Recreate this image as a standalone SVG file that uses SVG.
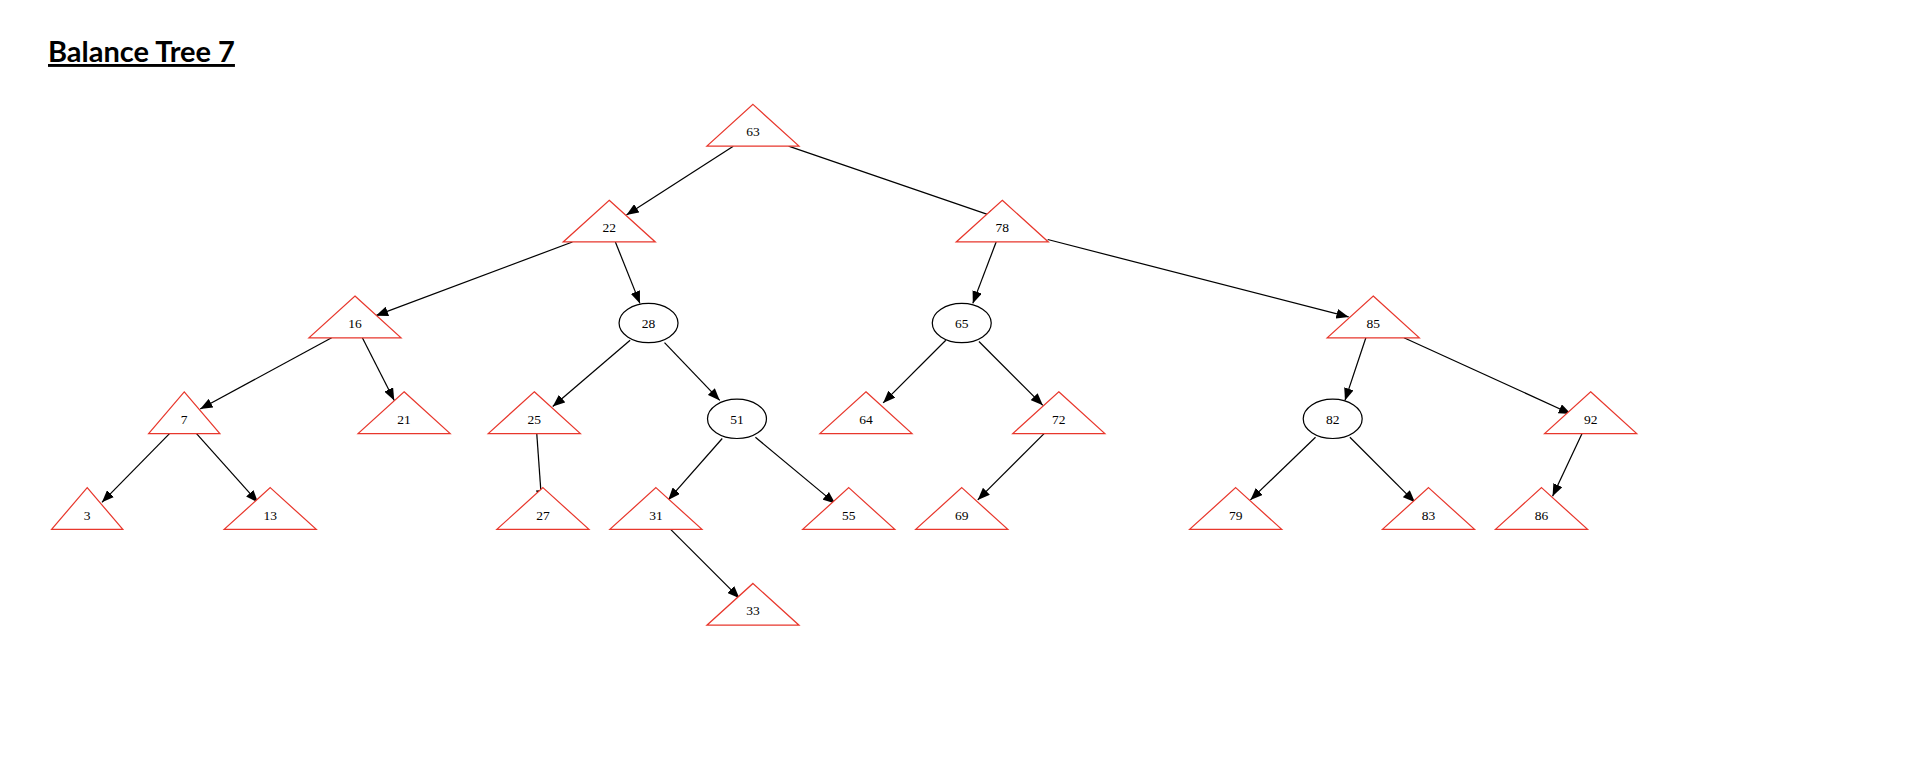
<svg xmlns="http://www.w3.org/2000/svg" width="1926" height="764" viewBox="0 0 1926 764">
<defs>
<style>
.t{fill:#fff;stroke:#e8372c;stroke-width:1}
.e{fill:#fff;stroke:#000;stroke-width:1}
.l{font-family:"Liberation Serif",serif;font-size:11px;text-anchor:middle;fill:#000}
.c line{stroke:#000;stroke-width:1;marker-end:url(#a)}
</style>
<marker id="a" viewBox="0 0 10 8" refX="10" refY="4" markerWidth="10" markerHeight="8" markerUnits="userSpaceOnUse" orient="auto"><path d="M0,0L10,4L0,8z" fill="#000"/></marker>
</defs>
<rect width="1926" height="764" fill="#fff"/>
<text x="48" y="62" font-family="Lato, sans-serif" font-weight="bold" font-size="29" text-decoration="underline" fill="#000">Balance Tree 7</text>
<g transform="scale(1.2283)">
<g class="c" id="connectors">
<line x1="597" y1="119" x2="510" y2="175"/>
<line x1="642" y1="119" x2="814" y2="178"/>
<line x1="466" y1="197" x2="306" y2="257"/>
<line x1="501" y1="197" x2="521" y2="247"/>
<line x1="811" y1="197" x2="792" y2="247"/>
<line x1="853" y1="195" x2="1098" y2="258"/>
<line x1="270" y1="275" x2="163" y2="333"/>
<line x1="295" y1="275" x2="321" y2="326"/>
<line x1="513" y1="277" x2="450" y2="331"/>
<line x1="541" y1="279" x2="586" y2="326"/>
<line x1="770" y1="277" x2="719" y2="328"/>
<line x1="797" y1="278" x2="849" y2="330"/>
<line x1="1112" y1="275" x2="1095" y2="326"/>
<line x1="1143" y1="275" x2="1279" y2="337"/>
<line x1="138" y1="353" x2="83" y2="409"/>
<line x1="160" y1="353" x2="210" y2="409"/>
<line x1="437" y1="353" x2="441" y2="409"/>
<line x1="588" y1="357" x2="544" y2="407"/>
<line x1="615" y1="356" x2="680" y2="410"/>
<line x1="850" y1="353" x2="796" y2="407"/>
<line x1="1071" y1="356" x2="1018" y2="407"/>
<line x1="1099" y1="356" x2="1152" y2="409"/>
<line x1="1288" y1="353" x2="1264" y2="404"/>
<line x1="546" y1="431" x2="602" y2="487"/>
</g>
<g id="n63"><polygon class="t" points="613,85 650.5,119 575.5,119"/><text class="l" x="613" y="111">63</text></g>
<g id="n22"><polygon class="t" points="496,163 533.5,197 458.5,197"/><text class="l" x="496" y="189">22</text></g>
<g id="n78"><polygon class="t" points="816,163 853.5,197 778.5,197"/><text class="l" x="816" y="189">78</text></g>
<g id="n16"><polygon class="t" points="289,241 326.5,275 251.5,275"/><text class="l" x="289" y="267">16</text></g>
<g id="n28"><ellipse class="e" cx="528" cy="263" rx="24" ry="16"/><text class="l" x="528" y="267">28</text></g>
<g id="n65"><ellipse class="e" cx="783" cy="263" rx="24" ry="16"/><text class="l" x="783" y="267">65</text></g>
<g id="n85"><polygon class="t" points="1118,241 1155.5,275 1080.5,275"/><text class="l" x="1118" y="267">85</text></g>
<g id="n7"><polygon class="t" points="150,319 179,353 121,353"/><text class="l" x="150" y="345">7</text></g>
<g id="n21"><polygon class="t" points="329,319 366.5,353 291.5,353"/><text class="l" x="329" y="345">21</text></g>
<g id="n25"><polygon class="t" points="435,319 472.5,353 397.5,353"/><text class="l" x="435" y="345">25</text></g>
<g id="n51"><ellipse class="e" cx="600" cy="341" rx="24" ry="16"/><text class="l" x="600" y="345">51</text></g>
<g id="n64"><polygon class="t" points="705,319 742.5,353 667.5,353"/><text class="l" x="705" y="345">64</text></g>
<g id="n72"><polygon class="t" points="862,319 899.5,353 824.5,353"/><text class="l" x="862" y="345">72</text></g>
<g id="n82"><ellipse class="e" cx="1085" cy="341" rx="24" ry="16"/><text class="l" x="1085" y="345">82</text></g>
<g id="n92"><polygon class="t" points="1295,319 1332.5,353 1257.5,353"/><text class="l" x="1295" y="345">92</text></g>
<g id="n3"><polygon class="t" points="71,397 100,431 42,431"/><text class="l" x="71" y="423">3</text></g>
<g id="n13"><polygon class="t" points="220,397 257.5,431 182.5,431"/><text class="l" x="220" y="423">13</text></g>
<g id="n27"><polygon class="t" points="442,397 479.5,431 404.5,431"/><text class="l" x="442" y="423">27</text></g>
<g id="n31"><polygon class="t" points="534,397 571.5,431 496.5,431"/><text class="l" x="534" y="423">31</text></g>
<g id="n55"><polygon class="t" points="691,397 728.5,431 653.5,431"/><text class="l" x="691" y="423">55</text></g>
<g id="n69"><polygon class="t" points="783,397 820.5,431 745.5,431"/><text class="l" x="783" y="423">69</text></g>
<g id="n79"><polygon class="t" points="1006,397 1043.5,431 968.5,431"/><text class="l" x="1006" y="423">79</text></g>
<g id="n83"><polygon class="t" points="1163,397 1200.5,431 1125.5,431"/><text class="l" x="1163" y="423">83</text></g>
<g id="n86"><polygon class="t" points="1255,397 1292.5,431 1217.5,431"/><text class="l" x="1255" y="423">86</text></g>
<g id="n33"><polygon class="t" points="613,475 650.5,509 575.5,509"/><text class="l" x="613" y="501">33</text></g>
</g>
</svg>
